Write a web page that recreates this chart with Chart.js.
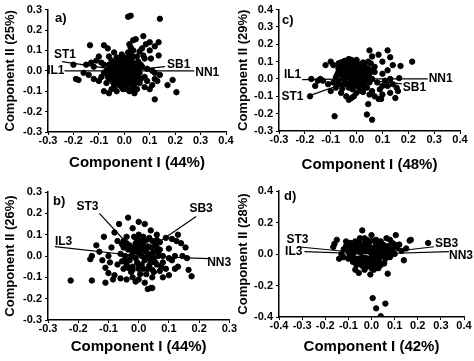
<!DOCTYPE html>
<html>
<head>
<meta charset="utf-8">
<script src="https://cdn.jsdelivr.net/npm/chart.js@4"></script>
<style>
  body { margin: 0; background: #fff; }
  .panel { position: absolute; width: 237px; }
</style>
</head>
<body>
<div class="panel" style="left:0;top:0;height:180px"><canvas id="chartA"></canvas></div>
<div class="panel" style="left:237px;top:0;height:180px"><canvas id="chartC"></canvas></div>
<div class="panel" style="left:0;top:180px;height:181px"><canvas id="chartB"></canvas></div>
<div class="panel" style="left:237px;top:180px;height:181px"><canvas id="chartD"></canvas></div>
<script>
// scores (component I, component II)
const scoresA = [
  [0.015,0.265],[0.025,0.27],[0.14,0.255],
  [-0.135,0.125],[-0.08,0.125],[-0.065,0.11],[0.02,0.13],[0.045,0.155],[0.035,0.15],[0.075,0.17],
  [0.085,0.13],[0.1,0.14],[0.135,0.14],[0.12,0.12],[0.1,0.1],[0.07,0.11],[0.06,0.095],[0.075,0.075],
  [0.08,0.06],[0.105,0.06],[0.135,0.075],[0.035,0.1],[0.025,0.115],[0.015,0.09],[-0.01,0.08],
  [-0.04,0.09],[-0.06,0.07],[-0.1,0.07],[-0.11,0.05],[-0.09,0.04],[-0.13,0.04],[-0.15,0.03],
  [-0.2,0.03],[-0.12,0.02],[-0.08,0.03],[-0.05,0.05],[-0.03,0.04],[0.0,0.05],[0.03,0.06],[0.05,0.04],
  [0.07,0.02],[0.09,0.01],[0.11,0.0],[0.12,-0.01],[0.14,-0.02],
  [-0.19,-0.04],[-0.18,-0.045],[-0.16,-0.01],[-0.14,-0.02],[-0.12,-0.04],[-0.1,-0.05],[-0.09,-0.03],
  [-0.08,-0.01],[-0.07,-0.06],[-0.06,-0.04],[-0.05,-0.09],[-0.08,-0.1],[-0.06,-0.11],[-0.04,-0.08],
  [-0.03,-0.1],[-0.01,-0.08],[0.01,-0.09],[0.02,-0.1],[0.03,-0.07],[0.04,-0.11],[0.05,-0.09],
  [0.06,-0.06],[0.08,-0.08],[0.09,-0.05],[0.1,-0.09],[0.11,-0.07],[0.12,-0.14],[0.13,-0.05],
  [0.12,-0.04],[0.17,-0.07],[0.19,-0.045],[0.205,-0.105],[0.08,-0.03],
  [-0.04,0.02],[-0.03,-0.01],[-0.02,0.03],[-0.01,0.0],[0.0,-0.02],[0.01,0.02],[0.02,-0.03],[0.03,0.01],
  [0.04,-0.02],[-0.05,0.0],[-0.02,-0.04],[0.0,0.04],[0.02,0.03],[0.03,-0.05],[-0.01,-0.06],[0.01,-0.04],
  [-0.03,-0.05],[0.05,0.0],[0.04,0.03],[-0.04,-0.03],[0.0,0.0],[0.015,-0.015],[-0.015,0.015],
  [0.025,0.045],[-0.025,0.045],[0.035,-0.035],[-0.035,-0.015],[0.045,0.015],[-0.045,0.035],
  [0.005,-0.065],[0.055,-0.025],[0.06,0.02],[-0.06,0.01],[-0.055,-0.02],[0.0,0.065],[0.015,0.055],
  [-0.01,-0.03],[0.02,0.0],[-0.02,-0.015],[0.01,0.01],[-0.005,0.025],[0.03,-0.015],[0.005,-0.045],
  [0.045,-0.05],[-0.045,-0.055],[0.065,-0.04],[0.02,-0.06],[-0.015,0.06],[0.03,0.075],[0.05,0.07],
  [-0.035,0.01],[-0.025,-0.03],[-0.015,-0.045],[-0.005,0.045],[0.005,0.015],[0.015,-0.055],
  [0.025,-0.02],[0.035,0.035],[0.045,-0.01],[-0.05,-0.04],[-0.06,0.03],[-0.045,0.015],[0.01,-0.075],
  [-0.02,-0.07],[0.04,-0.065],[0.055,0.045],[-0.03,0.065],[0.025,0.02],[-0.01,0.035],[0.0,-0.035],
  [-0.04,-0.065],[0.06,-0.01],[-0.07,0.0],[-0.065,-0.03],[0.065,0.03],[0.02,0.075],[-0.005,-0.09],
  [0.035,-0.085],[-0.025,0.01],[0.01,0.045]
];
const scoresC = [
  [-0.085,-0.215],[0.04,-0.205],[0.06,-0.235],[0.045,-0.145],[0.215,0.1],[0.17,0.075],[0.15,-0.11],
  [0.16,-0.07],[0.165,0.005],[0.095,-0.115],[0.085,-0.115],[0.1,-0.09],[-0.18,-0.1],[-0.175,0.0],
  [-0.16,-0.04],[-0.15,-0.01],[-0.14,0.0],[-0.12,0.08],[-0.1,0.1],[-0.13,-0.01],
  [0.05,0.165],[0.12,0.165],[0.13,0.125],[0.085,0.14],[0.06,0.13],[0.1,0.1],[0.14,0.08],[0.045,0.1],
  [0.07,0.07],[0.03,0.08],[0.02,0.06],[0.07,0.04],[0.1,0.03],[0.12,0.05],[-0.03,0.115],[-0.02,0.11],
  [-0.05,0.1],[-0.07,0.09],[-0.09,0.08],[0.0,0.09],
  [0.08,-0.02],[0.1,-0.04],[0.12,-0.04],[0.14,-0.03],[0.155,-0.05],[0.13,-0.08],[0.09,-0.06],
  [0.06,-0.07],[0.05,-0.09],[0.07,-0.1],[0.11,-0.01],[0.13,0.0],
  [-0.1,-0.07],[-0.08,-0.05],[-0.06,-0.08],[-0.04,-0.1],[-0.03,-0.12],[-0.01,-0.1],[-0.02,-0.11],
  [0.0,-0.08],[0.02,-0.07],[-0.09,-0.02],[-0.11,-0.03],[-0.07,-0.03],
  [-0.07,0.06],[-0.06,0.03],[-0.05,0.07],[-0.05,0.0],[-0.04,0.04],[-0.04,-0.03],[-0.03,0.08],
  [-0.03,0.02],[-0.03,-0.05],[-0.02,0.05],[-0.02,-0.01],[-0.01,0.07],[-0.01,0.02],[-0.01,-0.04],
  [0.0,0.04],[0.0,-0.02],[0.01,0.06],[0.01,0.0],[0.01,-0.05],[0.02,0.03],[0.02,-0.02],[0.03,0.05],
  [0.03,-0.04],[0.04,0.01],[0.04,-0.05],[0.05,0.03],[0.05,-0.02],[-0.08,0.01],[-0.07,-0.01],
  [-0.06,0.05],[-0.02,0.1],[0.0,0.11],[0.03,0.0],[0.06,0.0],[-0.035,0.06],[-0.015,-0.06],
  [0.015,0.085],[0.025,-0.075],[-0.055,-0.055],[0.045,0.06],[-0.045,0.085],[-0.025,-0.025],
  [0.005,0.025],[0.035,0.02],[-0.065,0.08],[0.055,0.09],
  [-0.065,0.045],[-0.055,0.015],[-0.045,-0.015],[-0.035,0.035],[-0.025,0.075],[-0.015,0.04],
  [-0.005,0.055],[0.005,0.005],[0.015,-0.035],[0.025,0.045],[-0.075,0.025],[-0.045,0.105],
  [-0.035,0.095],[-0.01,0.1],[0.015,0.07],[0.035,0.065],[-0.055,-0.035],[-0.025,0.005],
  [-0.005,-0.015],[0.02,0.015],[0.045,0.035],[-0.06,0.095],[0.0,0.065],[-0.04,0.015],[0.01,0.03],
  [-0.02,-0.035],[0.03,-0.015],[-0.07,0.04],[0.055,0.05],[0.025,0.095]
];
const scoresB = [
  [-0.225,-0.115],[-0.155,-0.115],[-0.16,-0.015],[-0.155,0.0],[-0.14,0.05],[-0.13,0.02],[-0.115,0.09],
  [-0.11,-0.055],[-0.11,-0.125],[-0.1,-0.08],[-0.085,-0.11],[-0.08,-0.09],[-0.09,0.04],[-0.08,0.11],
  [-0.065,0.15],[-0.07,0.07],[-0.06,-0.105],[-0.05,-0.06],[-0.035,0.18],[-0.02,0.13],[0.0,0.16],
  [0.0,0.1],[0.02,0.15],[0.04,0.12],[0.06,0.1],[0.045,0.07],[0.07,0.065],[0.09,0.085],[0.11,0.08],
  [0.13,0.1],[0.125,0.07],[0.14,0.06],[0.1,0.035],[0.12,0.0],[0.145,0.0],[0.155,0.04],[0.16,-0.01],
  [0.165,-0.065],[0.175,-0.095],[0.13,-0.05],[0.12,-0.06],[0.1,-0.09],[0.11,-0.02],[0.09,-0.06],
  [0.08,-0.1],[0.07,-0.07],[0.05,-0.075],[0.04,-0.15],[0.03,-0.155],[0.045,-0.15],[0.0,-0.11],
  [-0.02,-0.1],[-0.01,-0.12],[0.02,-0.125],[-0.04,-0.11],[0.06,-0.04],[0.08,-0.03],[0.1,-0.01],
  [-0.1,0.0],[-0.12,-0.02],[-0.095,-0.03],[-0.07,-0.04],[-0.06,0.01],[-0.05,0.04],[-0.04,0.09],
  [-0.03,0.05],[-0.03,-0.02],[-0.02,0.02],[-0.02,-0.05],[-0.01,0.06],[-0.01,-0.01],[0.0,0.03],
  [0.0,-0.06],[0.01,0.07],[0.01,0.0],[0.01,-0.04],[0.02,0.04],[0.02,-0.02],[0.03,0.01],[0.03,-0.06],
  [0.04,0.04],[0.04,-0.03],[0.05,0.02],[0.05,-0.01],[-0.045,0.0],[-0.04,-0.04],[0.0,0.05],
  [0.015,0.09],[-0.015,0.09],[0.035,0.085],[0.025,-0.085],[-0.025,-0.075],[0.06,0.04],[0.065,0.0],
  [-0.055,-0.025],[0.005,-0.085],[0.045,-0.1],[-0.05,0.07],[0.07,0.03],
  [-0.035,0.03],[-0.025,0.0],[-0.015,0.04],[-0.005,-0.03],[0.005,0.015],[0.015,0.055],[0.025,0.02],
  [0.035,-0.01],[0.045,0.01],[0.055,0.05],[-0.045,-0.02],[-0.035,-0.055],[0.015,-0.06],[0.035,-0.045],
  [0.055,-0.03],[-0.005,0.08],[0.025,0.075],[0.06,0.075],[-0.055,0.055],[0.0,-0.04],[0.01,0.03],
  [0.03,0.045],[-0.02,-0.065],[0.045,-0.065],[0.065,0.02],[-0.01,0.02],[0.02,-0.01],[-0.04,0.06],
  [0.075,-0.05],[0.08,0.0]
];
const scoresD = [
  [0.005,-0.28],[0.02,-0.345],[0.06,-0.315],[0.04,-0.395],[0.245,0.07],[0.17,0.09],[0.165,0.085],
  [0.14,-0.04],[0.15,0.035],[-0.165,0.045],[-0.14,-0.03],[-0.15,0.09],[-0.16,0.065],[-0.04,0.15],
  [0.0,0.12],[0.065,0.1],[0.105,0.12],[0.07,-0.125],[-0.005,-0.13],[-0.055,-0.12],[-0.07,-0.1],
  [-0.11,0.08],[-0.09,0.07],[-0.07,0.08],[-0.05,0.1],[-0.03,0.1],[-0.01,0.08],[0.02,0.09],[0.04,0.08],
  [0.08,0.09],[0.09,0.07],[0.12,0.06],[0.11,0.04],[0.13,0.02],
  [-0.13,0.0],[-0.12,0.03],[-0.12,-0.02],[-0.1,0.02],[-0.1,-0.03],[-0.09,0.05],[-0.08,-0.01],
  [-0.08,-0.05],[-0.07,0.03],[-0.06,-0.03],[-0.06,0.06],[-0.05,0.01],[-0.05,-0.06],[-0.04,0.04],
  [-0.04,-0.02],[-0.03,0.07],[-0.03,-0.05],[-0.02,0.02],[-0.02,-0.08],[-0.01,0.05],[-0.01,-0.03],
  [0.0,0.0],[0.0,-0.06],[0.01,0.04],[0.01,-0.02],[0.02,0.06],[0.02,-0.05],[0.03,0.01],[0.03,-0.03],
  [0.04,0.04],[0.04,-0.07],[0.05,0.0],[0.05,0.06],[0.06,-0.03],[0.06,0.03],[0.07,0.05],[0.07,0.0],
  [0.08,-0.02],[0.09,0.03],[0.1,0.0],[0.1,0.06],[-0.03,-0.1],[0.0,-0.09],[0.03,-0.09],
  [-0.015,-0.04],[0.015,0.015],[-0.045,0.05],[0.035,0.055],[-0.065,-0.07],[0.055,-0.06],
  [-0.085,0.025],[0.085,0.015],[-0.02,0.09],[0.01,-0.1],
  [-0.095,0.0],[-0.075,0.01],[-0.065,-0.04],[-0.055,0.035],[-0.045,-0.04],[-0.035,0.02],
  [-0.025,-0.025],[-0.015,0.065],[-0.005,0.025],[0.005,-0.04],[0.025,0.035],[0.035,-0.05],
  [0.045,0.02],[0.055,0.04],[0.065,-0.01],[0.075,0.03],[-0.11,0.05],[-0.07,0.06],[-0.02,0.045],
  [0.015,-0.07],[-0.04,-0.075],[0.0,0.03],[0.03,0.07],[-0.085,-0.025],[0.095,0.045],[0.005,0.085],
  [-0.055,0.08],[0.045,-0.015],[-0.01,-0.055],[0.02,0.0]
];

// loading vectors (drawn from the origin)
const namesA = ['ST1', 'IL1', 'SB1', 'NN1'];
const loadXA = [-0.245, -0.235, 0.16, 0.275];
const loadYA = [0.045, 0.0, 0.02, 0.0];
const namesC = ['IL1', 'NN1', 'ST1', 'SB1'];
const loadXC = [-0.21, 0.275, -0.19, 0.175];
const loadYC = [-0.004, 0.0, -0.1, -0.028];
const namesB = ['ST3', 'SB3', 'IL3', 'NN3'];
const loadXB = [-0.13, 0.19, -0.277, 0.23];
const loadYB = [0.2, 0.185, 0.044, -0.012];
const namesD = ['ST3', 'IL3', 'SB3', 'NN3'];
const loadXD = [-0.32, -0.29, 0.27, 0.335];
const loadYD = [0.046, 0.015, 0.046, 0.015];

const FONT = '"Liberation Sans", Arial, sans-serif';

// draws loading names and the panel letter
const labelPlugin = {
  id: 'loadLabels',
  afterDatasetsDraw(chart, args, opts) {
    const ctx = chart.ctx;
    const xs = chart.scales.x, ys = chart.scales.y;
    ctx.save();
    ctx.fillStyle = '#000';
    ctx.textBaseline = 'middle';
    ctx.font = 'bold 12px ' + FONT;
    opts.names.forEach((n, i) => {
      const p = opts.place[i];
      ctx.textAlign = p[0];
      ctx.fillText(n, xs.getPixelForValue(opts.lx[i]) + p[1], ys.getPixelForValue(opts.ly[i]) + p[2]);
    });
    ctx.font = 'bold 13px ' + FONT;
    ctx.textAlign = 'left';
    ctx.fillText(opts.tag, chart.chartArea.left + opts.tagPos[0], chart.chartArea.top + opts.tagPos[1]);
    ctx.restore();
  }
};

function makePanel(id, p) {
  const datasets = [{
    data: p.scores.map(s => ({x: s[0], y: s[1]})),
    backgroundColor: '#000',
    borderColor: '#000',
    pointRadius: 2.7,
    pointHoverRadius: 2.7
  }];
  p.names.forEach((n, i) => {
    datasets.push({
      type: 'line',
      data: [{x: 0, y: 0}, {x: p.lx[i], y: p.ly[i]}],
      borderColor: '#000',
      borderWidth: 1.2,
      pointRadius: 0,
      fill: false
    });
  });
  const axisGrid = {display: true, drawOnChartArea: false, drawTicks: true, tickLength: 3, color: '#000', lineWidth: 1};
  return new Chart(document.getElementById(id), {
    type: 'scatter',
    data: {datasets},
    options: {
      responsive: true,
      maintainAspectRatio: false,
      animation: false,
      layout: {padding: {left: 0, right: p.padRight, top: p.top, bottom: 0}},
      plugins: {
        legend: {display: false},
        tooltip: {enabled: false},
        loadLabels: {names: p.names, lx: p.lx, ly: p.ly, place: p.place, tag: p.tag, tagPos: p.tagPos}
      },
      scales: {
        x: {
          min: p.xMin, max: p.xMax,
          ticks: {stepSize: 0.1, color: '#000', padding: 0, font: {family: FONT, size: 11, weight: 'bold', lineHeight: 1},
            maxRotation: 0, callback: v => v.toFixed(1)},
          grid: axisGrid,
          border: {color: '#000', width: 1.5},
          title: {display: true, text: p.xTitle, color: '#000', font: {family: FONT, size: 15, weight: 'bold', lineHeight: 1},
            padding: {top: 0, bottom: p.xTitlePad}},
          afterFit: s => { s.height = p.xHeight; }
        },
        y: {
          min: p.yMin, max: p.yMax,
          ticks: {stepSize: 0.1, color: '#000', padding: 3, font: {family: FONT, size: 11, weight: 'bold'},
            callback: v => v.toFixed(1)},
          grid: axisGrid,
          border: {color: '#000', width: 1.5},
          title: {display: true, text: p.yTitle, color: '#000', font: {family: FONT, size: 13, weight: 'bold', lineHeight: 1},
            padding: {top: p.yTitlePad, bottom: 0}},
          afterFit: s => { s.width = p.left; }
        }
      }
    },
    plugins: [labelPlugin]
  });
}

makePanel('chartA', {
  scores: scoresA, names: namesA, lx: loadXA, ly: loadYA,
  place: [['center', 3, -7], ['right', 0, 0], ['left', 2, -2], ['left', 1, 2]],
  tag: 'a)', tagPos: [7, 9],
  xMin: -0.3, xMax: 0.4, yMin: -0.3, yMax: 0.3,
  xTitle: 'Component I (44%)', yTitle: 'Component II (25%)',
  left: 48, padRight: 11, top: 7, xHeight: 48, xTitlePad: 9.5, yTitlePad: 3.5
});
makePanel('chartC', {
  scores: scoresC, names: namesC, lx: loadXC, ly: loadYC,
  place: [['right', -1, -5], ['left', 1, 0], ['right', -4, 0], ['left', 1, 4]],
  tag: 'c)', tagPos: [3, 11],
  xMin: -0.3, xMax: 0.4, yMin: -0.3, yMax: 0.4,
  xTitle: 'Component I (48%)', yTitle: 'Component II (29%)',
  left: 42, padRight: 14, top: 5, xHeight: 49, xTitlePad: 7.5, yTitlePad: 0
});
makePanel('chartB', {
  scores: scoresB, names: namesB, lx: loadXB, ly: loadYB,
  place: [['right', -1, -7], ['center', 5, -8], ['left', 0, -5], ['left', -1, 4]],
  tag: 'b)', tagPos: [5, 9],
  xMin: -0.3, xMax: 0.3, yMin: -0.3, yMax: 0.3,
  xTitle: 'Component I (44%)', yTitle: 'Component II (26%)',
  left: 48, padRight: 7, top: 12, xHeight: 41, xTitlePad: 6.5, yTitlePad: 3.5
});
makePanel('chartD', {
  scores: scoresD, names: namesD, lx: loadXD, ly: loadYD,
  place: [['center', 0, -7], ['right', -2, 0], ['left', 1, -3], ['left', 0, 4]],
  tag: 'd)', tagPos: [5, 5],
  xMin: -0.4, xMax: 0.4, yMin: -0.4, yMax: 0.4,
  xTitle: 'Component I (42%)', yTitle: 'Component II (28%)',
  left: 42, padRight: 10, top: 11, xHeight: 44, xTitlePad: 6.5, yTitlePad: 0
});
</script>
</body>
</html>
